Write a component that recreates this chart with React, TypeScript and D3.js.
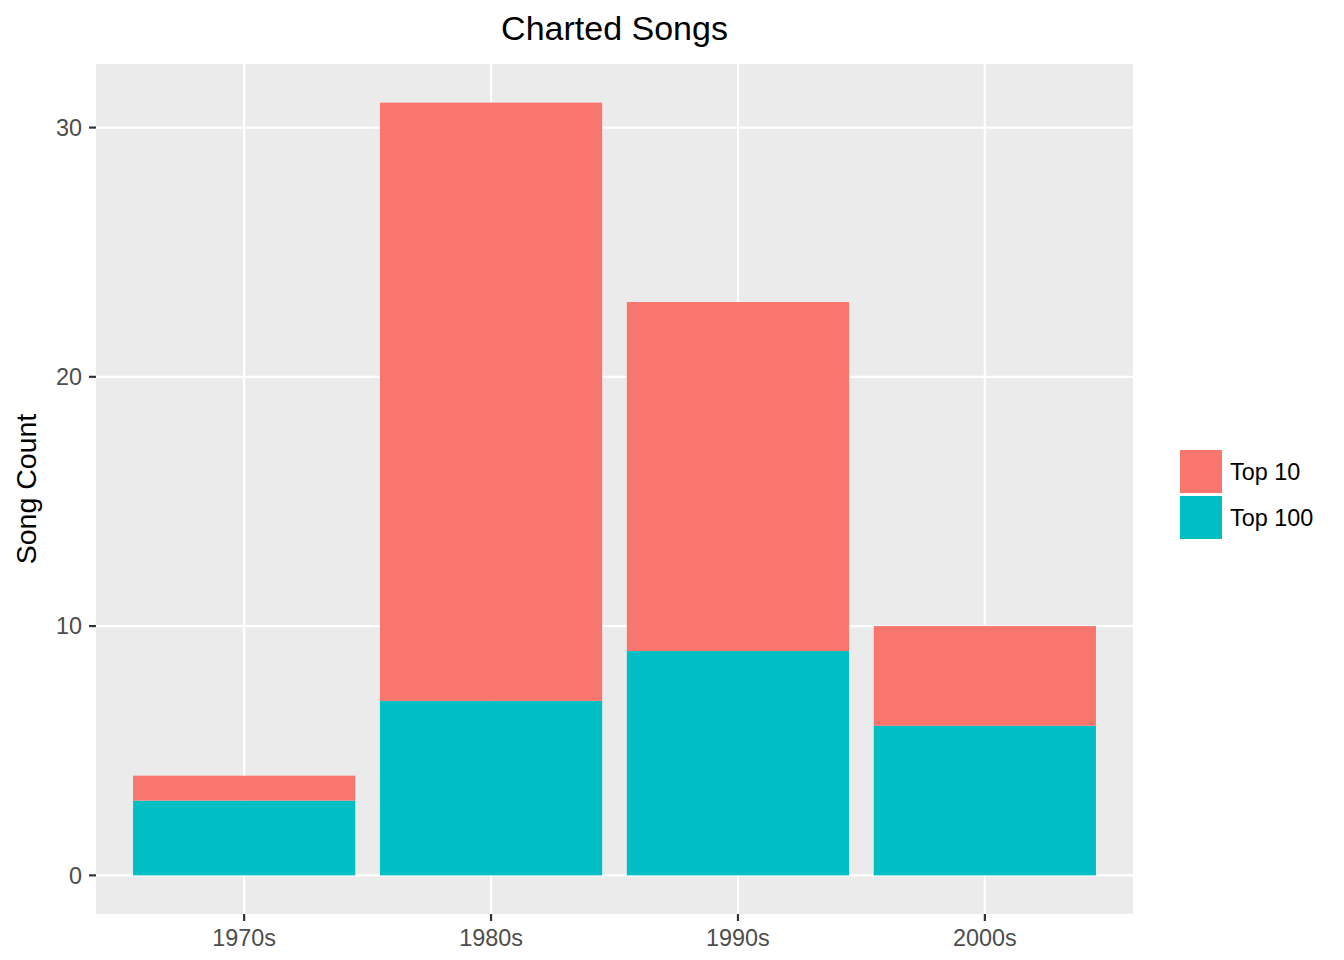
import React from "react";
import * as d3 from "d3";

const decades = ["1970s", "1980s", "1990s", "2000s"];
const top100 = [3, 7, 9, 6];
const top10 = [1, 24, 14, 4];
const seriesKeys = ["Top 100", "Top 10"];
const legendOrder = ["Top 10", "Top 100"];
const yTicks = [0, 10, 20, 30];

const colors: Record<string, string> = { "Top 10": "#F8766D", "Top 100": "#00BFC4" };

const W = 1344;
const H = 960;
const panel = { left: 96, right: 1133, top: 64, bottom: 914 };
const FONT = "'Liberation Sans', Arial, sans-serif";

export default function App() {
  const rows = decades.map((d, i) => ({ decade: d, "Top 100": top100[i], "Top 10": top10[i] }));
  const stacked = d3.stack<any>().keys(seriesKeys)(rows);
  const maxTotal = d3.max(rows, (r) => r["Top 100"] + r["Top 10"]) as number;
  const pad = maxTotal * 0.05;

  const x = d3
    .scaleBand<string>()
    .domain(decades)
    .range([panel.left, panel.right])
    .paddingInner(0.1)
    .paddingOuter(0.15);
  const y = d3
    .scaleLinear()
    .domain([-pad, maxTotal + pad])
    .range([panel.bottom, panel.top]);

  return (
    <svg width={W} height={H} style={{ position: "absolute", left: 0, top: 0 }} fontFamily={FONT}>
      <rect x={0} y={0} width={W} height={H} fill="#FFFFFF" />
      <rect
        x={panel.left}
        y={panel.top}
        width={panel.right - panel.left}
        height={panel.bottom - panel.top}
        fill="#EBEBEB"
      />
      {yTicks.map((t) => (
        <line key={"gy" + t} x1={panel.left} x2={panel.right} y1={y(t)} y2={y(t)} stroke="#FFFFFF" strokeWidth={2.2} />
      ))}
      {decades.map((d) => {
        const cx = (x(d) as number) + x.bandwidth() / 2;
        return <line key={"gx" + d} x1={cx} x2={cx} y1={panel.top} y2={panel.bottom} stroke="#FFFFFF" strokeWidth={2.2} />;
      })}
      {stacked.map((s) => (
        <g key={s.key} fill={colors[s.key]}>
          {s.map((p, i) => (
            <rect
              key={i}
              x={x(decades[i]) as number}
              width={x.bandwidth()}
              y={y(p[1])}
              height={y(p[0]) - y(p[1])}
            />
          ))}
        </g>
      ))}
      {/* y axis */}
      {yTicks.map((t) => (
        <g key={"ty" + t}>
          <line x1={panel.left - 7} x2={panel.left} y1={y(t)} y2={y(t)} stroke="#333333" strokeWidth={2.2} />
          <text x={panel.left - 14} y={y(t)} dy="0.35em" textAnchor="end" fontSize={23.4} fill="#4D4D4D">
            {t}
          </text>
        </g>
      ))}
      {/* x axis */}
      {decades.map((d) => {
        const cx = (x(d) as number) + x.bandwidth() / 2;
        return (
          <g key={"tx" + d}>
            <line x1={cx} x2={cx} y1={panel.bottom} y2={panel.bottom + 7} stroke="#333333" strokeWidth={2.2} />
            <text x={cx} y={946} textAnchor="middle" fontSize={23.4} fill="#4D4D4D">
              {d}
            </text>
          </g>
        );
      })}
      {/* title */}
      <text x={(panel.left + panel.right) / 2} y={40} textAnchor="middle" fontSize={34} fill="#000000">
        Charted Songs
      </text>
      {/* y axis title */}
      <text
        transform={`translate(36,${(panel.top + panel.bottom) / 2}) rotate(-90)`}
        textAnchor="middle"
        fontSize={28.5}
        fill="#000000"
      >
        Song Count
      </text>
      {/* legend */}
      {legendOrder.map((k, i) => (
        <g key={"lg" + k}>
          <rect x={1180} y={450 + i * 46} width={42} height={43} fill={colors[k]} />
          <text x={1230} y={480 + i * 46} fontSize={23.4} fill="#000000">
            {k}
          </text>
        </g>
      ))}
    </svg>
  );
}
